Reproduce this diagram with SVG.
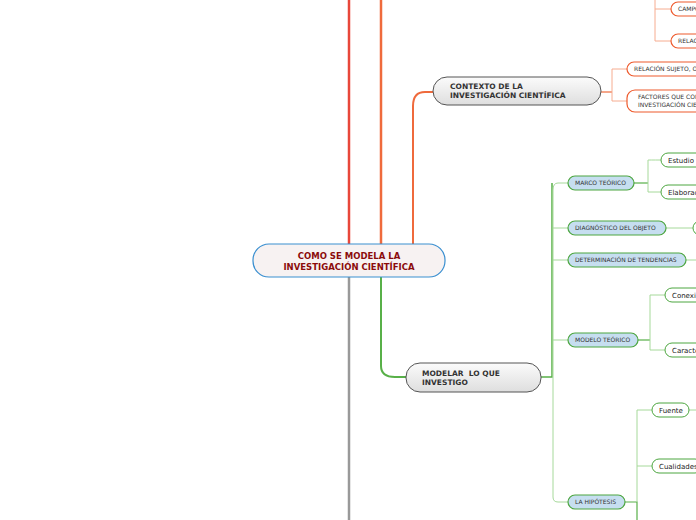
<svg xmlns="http://www.w3.org/2000/svg" width="696" height="520" viewBox="0 0 696 520">
<style>
text{font-family:"DejaVu Sans","Liberation Sans",sans-serif}
.o{fill:#fff;stroke:#ee5a2c;stroke-width:1.2}
.ot{font-size:6px;fill:#333}
.b{fill:#c6def0;stroke:#4da640;stroke-width:1.2}
.bt{font-size:6px;fill:#333}
.w{fill:#fff;stroke:#4da640;stroke-width:1}
.wt{font-size:7px;fill:#222}
.m{fill:url(#g);stroke:#555;stroke-width:1}
.mt{font-size:7.5px;font-weight:bold;fill:#333}
.lc{fill:none;stroke:#a6d99a;stroke-width:1}
.lo{fill:none;stroke:#f6ac90;stroke-width:1}
</style>
<defs><linearGradient id="g" x1="0" y1="0" x2="0" y2="1"><stop offset="0" stop-color="#fbfbfb"/><stop offset="1" stop-color="#dedede"/></linearGradient></defs>
<rect width="696" height="520" fill="#fff"/>
<g id="connectors">
<path d="M349 0V244" stroke="#e8473a" stroke-width="2.5" fill="none"/>
<path d="M381 0V244" stroke="#ef6a3c" stroke-width="2.5" fill="none"/>
<path d="M413 244V106Q413 92 425 92H433" stroke="#ef6a3c" stroke-width="2" fill="none"/>
<path d="M349 277V520" stroke="#999" stroke-width="2.5" fill="none"/>
<path d="M381 277V366Q381 377 395 377H406" stroke="#58b048" stroke-width="2" fill="none"/>
<path d="M541 377H552V183" stroke="#58b048" stroke-width="1.5" fill="none"/>
<path class="lc" d="M568 183H558Q553 183 553 190V497Q553 502 558 502H568M553 228H568M553 260H568M553 340H568"/>
<path d="M634 183H648" stroke="#58b048" stroke-width="1.2"/>
<path class="lc" d="M648 160V192M648 160Q648 160 661 160M648 192H661"/>
<path class="lc" d="M666 228H693M686 260H696"/>
<path d="M638 340H650" stroke="#58b048" stroke-width="1.2"/>
<path class="lc" d="M650 295V350M650 295H665M650 350H665"/>
<path d="M625 502H637V520" stroke="#58b048" stroke-width="1.2" fill="none"/>
<path class="lc" d="M637 502V410H652M637 466H652M689 410H696"/>
<path d="M601 92H612" stroke="#ef6a3c" stroke-width="1.2"/>
<path class="lo" d="M612 69V101M612 69H627M612 101H627M655 0V41H671M655 9H671"/>
</g>
<g id="root"><rect x="253" y="244" width="192" height="33" rx="16" fill="#f7f2f2" stroke="#3a8fd0" stroke-width="1.2"/>
<text x="349" y="259" text-anchor="middle" font-size="8.5" font-weight="bold" fill="#8b0b0b">COMO SE MODELA LA</text>
<text x="349" y="270" text-anchor="middle" font-size="8.5" font-weight="bold" fill="#8b0b0b">INVESTIGACIÓN CIENTÍFICA</text></g>
<g id="contexto"><rect class="m" x="433" y="77" width="168" height="28" rx="14"/>
<text class="mt" x="450" y="89">CONTEXTO DE LA</text><text class="mt" x="450" y="98">INVESTIGACIÓN CIENTÍFICA</text></g>
<g id="modelar"><rect class="m" x="406" y="363" width="135" height="29" rx="14"/>
<text class="mt" x="422" y="376" xml:space="preserve">MODELAR  LO QUE</text><text class="mt" x="422" y="385">INVESTIGO</text></g>
<g id="camp"><rect class="o" x="671" y="2" width="40" height="14" rx="7"/><text class="ot" x="678" y="11">CAMPO</text></g>
<g id="relac"><rect class="o" x="671" y="34" width="40" height="14" rx="7"/><text class="ot" x="678" y="43">RELACIÓN</text></g>
<g id="relsuj"><rect class="o" x="627" y="62" width="90" height="14" rx="7"/><text class="ot" x="634" y="71">RELACIÓN SUJETO, OBJETO</text></g>
<g id="factores"><rect class="o" x="627" y="90" width="90" height="22" rx="8"/><text class="ot" x="638" y="99">FACTORES QUE CONDICIONAN</text><text class="ot" x="638" y="107">INVESTIGACIÓN CIENTÍFICA</text></g>
<g id="marco"><rect class="b" x="568" y="176" width="66" height="14" rx="7"/><text class="bt" x="575" y="185">MARCO TEÓRICO</text></g>
<g id="diag"><rect class="b" x="568" y="221" width="98" height="14" rx="7"/><text class="bt" x="575" y="230">DIAGNÓSTICO DEL OBJETO</text></g>
<g id="determ"><rect class="b" x="568" y="253" width="118" height="14" rx="7"/><text class="bt" x="575" y="262">DETERMINACIÓN DE TENDENCIAS</text></g>
<g id="modelo"><rect class="b" x="568" y="333" width="70" height="14" rx="7"/><text class="bt" x="575" y="342">MODELO TEÓRICO</text></g>
<g id="hipo"><rect class="b" x="568" y="495" width="57" height="14" rx="7"/><text class="bt" x="575" y="504">LA HIPÓTESIS</text></g>
<g id="estudio"><rect class="w" x="661" y="153" width="60" height="14" rx="7"/><text class="wt" x="668" y="163">Estudio y</text></g>
<g id="elab"><rect class="w" x="661" y="185" width="60" height="14" rx="7"/><text class="wt" x="668" y="195">Elaboración</text></g>
<g id="diagleaf"><rect class="w" x="693" y="221" width="30" height="14" rx="7"/></g>
<g id="conex"><rect class="w" x="665" y="288" width="60" height="14" rx="7"/><text class="wt" x="672" y="298">Conexión</text></g>
<g id="caract"><rect class="w" x="665" y="343" width="60" height="14" rx="7"/><text class="wt" x="672" y="353">Características</text></g>
<g id="fuente"><rect class="w" x="652" y="403" width="37" height="14" rx="7"/><text class="wt" x="659" y="413">Fuente</text></g>
<g id="cual"><rect class="w" x="652" y="459" width="50" height="14" rx="7"/><text class="wt" x="659" y="469">Cualidades</text></g>
</svg>
